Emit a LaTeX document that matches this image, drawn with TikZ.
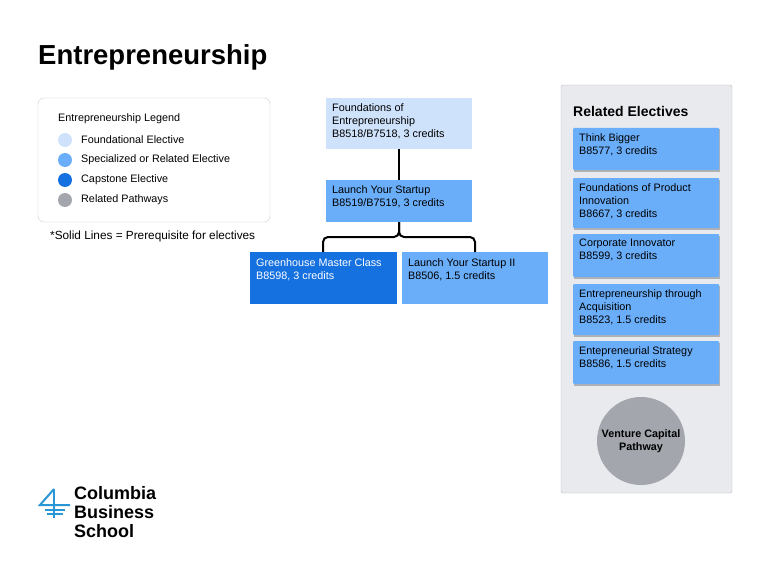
\documentclass[tikz,border=0pt]{standalone}
\usepackage{fontspec}
\setmainfont{Liberation Sans}
\begin{document}
\begin{tikzpicture}[x=1pt,y=-1pt,
  txt/.style={font=\fontsize{10.8}{13}\selectfont,align=left,anchor=north west,inner sep=0pt},
  conn/.style={line width=2pt,rounded corners=5pt}]
\definecolor{lightb}{HTML}{CFE2FB}
\definecolor{midb}{HTML}{6AAEFA}
\definecolor{darkb}{HTML}{1570E0}
\definecolor{panel}{HTML}{E8EAEE}
\definecolor{grayc}{HTML}{A3A6AD}
\useasboundingbox (0,0) rectangle (768,575);
\fill[white] (0,0) rectangle (768,575);
\node[anchor=west,inner sep=0pt,font=\fontsize{27.5}{30}\selectfont\bfseries] (title) at (38,57) {Entrepreneurship};
% legend
\draw[gray!40,fill=white,rounded corners=6pt] (38,98) rectangle (270,222);
\node[txt,anchor=west] (lt) at (58,119) {Entrepreneurship Legend};
\foreach \c/\t/\y in {lightb/Foundational Elective/140,midb/Specialized or Related Elective/160,darkb/Capstone Elective/180,grayc/Related Pathways/200}{
  \fill[\c] (65,\y) circle (7);
  \node[txt,anchor=west] at (81,\y) {\t};}
\node[txt,anchor=west,font=\fontsize{11.8}{13}\selectfont] (note) at (50,236) {*Solid Lines = Prerequisite for electives};
% course boxes
\fill[lightb] (326,98) rectangle (472,149);
\node[txt] (f) at (332,103) {Foundations of\\Entrepreneurship\\B8518/B7518, 3 credits};
\coordinate (fb) at (399,149);
\fill[midb] (326,180) rectangle (472,222);
\node[txt] (l) at (332,185) {Launch Your Startup\\B8519/B7519, 3 credits};
\coordinate (lt2) at (399,180); \coordinate (lb) at (399,222);
\fill[darkb] (250,252) rectangle (397,304);
\node[txt,text=white] (g) at (256,258) {Greenhouse Master Class\\B8598, 3 credits};
\coordinate (gt) at (323,252);
\fill[midb] (402,252) rectangle (548,304);
\node[txt] (l2) at (408,258) {Launch Your Startup II\\B8506, 1.5 credits};
\coordinate (l2t) at (475,252);
\draw[conn] (fb) -- (lt2);
\draw[conn] (lb) -- (399,237) -- (323,237) -- (gt);
\draw[conn] (lb) -- (399,237) -- (475,237) -- (l2t);
% panel
\draw[gray!50,fill=panel,rounded corners=2pt] (561,85) rectangle (732,493);
\node[txt,anchor=west,font=\fontsize{14}{16}\selectfont\bfseries] (rt) at (573,111) {Related Electives};
\foreach \a/\b/\t in {128/170/{Think Bigger\\B8577, 3 credits},178/228/{Foundations of Product\\Innovation\\B8667, 3 credits},234/277/{Corporate Innovator\\B8599, 3 credits},284/335/{Entrepreneurship through\\Acquisition\\B8523, 1.5 credits},341/384/{Entepreneurial Strategy\\B8586, 1.5 credits}}{
  \fill[gray!60] (574,\a+1.5) rectangle (720,\b+1.5);
  \fill[midb,rounded corners=1pt] (573,\a) rectangle (719,\b);
  \node[txt] at (579,\a+5) {\t};}
\fill[grayc] (641,441) circle (44);
\node[font=\fontsize{10.8}{13}\selectfont\bfseries,align=center] (vc) at (641,441) {Venture Capital\\Pathway};
% logo
\begin{scope}[draw={rgb,255:red,40;green,150;blue,215},line width=2pt]
\draw (54,489) -- (40,505) -- (70,505);
\draw (54,489) -- (54,518);
\draw[line width=1.2pt] (45,510) -- (65,510);
\draw[line width=1.2pt] (47,514) -- (63,514);
\end{scope}
\node[anchor=north west,inner sep=0pt,align=left,font=\fontsize{18}{19}\selectfont\bfseries] (logo) at (74,486) {Columbia\\Business\\School};
\end{tikzpicture}
\end{document}
